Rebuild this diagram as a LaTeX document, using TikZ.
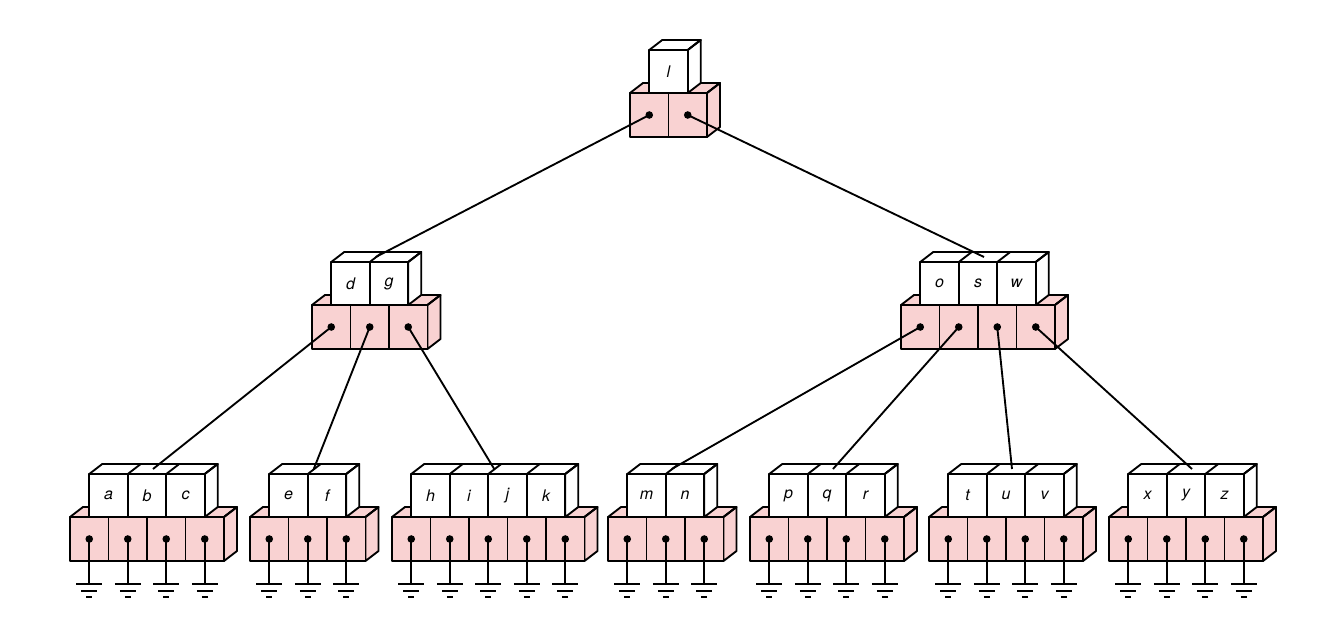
\documentclass[tikz,border=0pt]{standalone}
\usepackage{fontspec}
\setsansfont{TeX Gyre Heros}
\definecolor{pinkc}{HTML}{F9D2D2}
\tikzset{x=0.75pt,y=-0.75pt,
  boxline/.style={draw=black,line width=1.4pt,line join=round},
  link/.style={draw=black,line width=1.4pt},
  keytext/.style={font=\sffamily\itshape\fontsize{12}{12}\selectfont}}
\newcommand\boxrow[5]{%
  \pgfmathsetmacro\W{#4*38.5}
  \path[boxline,fill=#1] (#2,#3) -- ++(13,-10) -- ++(\W,0) -- ++(-13,10) -- cycle;
  \path[boxline,fill=#1] (#2+\W,#3) -- ++(13,-10) -- ++(0,#5) -- ++(-13,10) -- cycle;
  \path[boxline,fill=#1] (#2,#3) rectangle ++(\W,#5);
  \foreach \i in {1,...,#4}{
    \draw[boxline] (#2+\i*38.5,#3) -- ++(0,#5);
    \draw[boxline] (#2+\i*38.5,#3) -- ++(13,-10);}
}
\newcommand\tnode[5]{% name, x, y, keys, nkeys
  \pgfmathtruncatemacro\N{#5+1}
  \boxrow{pinkc}{#2}{#3}{\N}{44}
  \boxrow{white}{#2+19.25}{#3-43}{#5}{43}
  \foreach \k [count=\j] in {#4}{
    \node[keytext] (#1-k\j) at (#2+19.25+\j*38.5-19.25,#3-21.5) {\k};}
  \coordinate (#1-top) at (#2+\N*19.25+6,#3-48);
  \foreach \j in {1,...,\N}{
    \coordinate (#1-\j) at (#2+\j*38.5-19.25,#3+22);}
}
\newcommand\ground[2]{% node, n
  \foreach \j in {1,...,#2}{
    \draw[link] (#1-\j) -- ++(0,45) coordinate (#1-g\j);
    \draw[link] ([xshift=-13*0.75pt]#1-g\j) -- ++(26,0);
    \draw[link] ([xshift=-8*0.75pt,yshift=-7*0.75pt]#1-g\j) -- ++(16,0);
    \draw[link] ([xshift=-3*0.75pt,yshift=-13*0.75pt]#1-g\j) -- ++(6,0);
    \fill (#1-\j) circle (3.8);}
}
\begin{document}
\begin{tikzpicture}
\useasboundingbox (0,0) rectangle (1320,622);
\tnode{r}{630}{93}{l}{1}
\tnode{L}{312}{305}{d,g}{2}
\tnode{R}{901}{305}{o,s,w}{3}
\tnode{a}{70}{517}{a,b,c}{3}
\tnode{e}{250}{517}{e,f}{2}
\tnode{h}{392}{517}{h,i,j,k}{4}
\tnode{m}{608}{517}{m,n}{2}
\tnode{p}{750}{517}{p,q,r}{3}
\tnode{t}{929}{517}{t,u,v}{3}
\tnode{x}{1109}{517}{x,y,z}{3}
\draw[link] (r-1) -- (L-top);
\draw[link] (r-2) -- (R-top);
\draw[link] (L-1) -- (a-top);
\draw[link] (L-2) -- (e-top);
\draw[link] (L-3) -- (h-top);
\draw[link] (R-1) -- (m-top);
\draw[link] (R-2) -- (p-top);
\draw[link] (R-3) -- (t-top);
\draw[link] (R-4) -- (x-top);
\foreach \n in {r-1,r-2,L-1,L-2,L-3,R-1,R-2,R-3,R-4} \fill (\n) circle (3.8);
\ground{a}{4}
\ground{e}{3}
\ground{h}{5}
\ground{m}{3}
\ground{p}{4}
\ground{t}{4}
\ground{x}{4}
\end{tikzpicture}
\end{document}
